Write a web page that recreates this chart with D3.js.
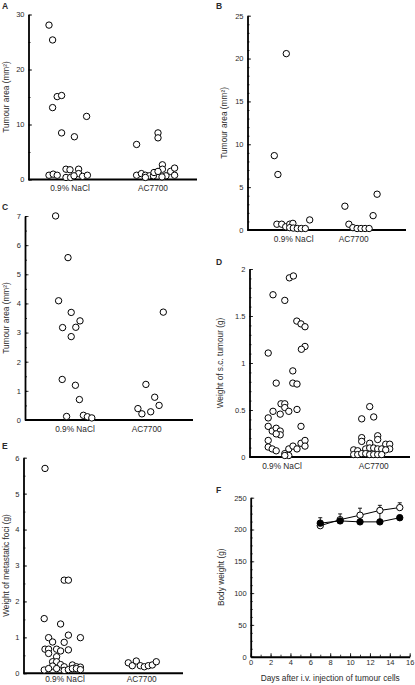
<!DOCTYPE html>
<html>
<head>
<meta charset="utf-8">
<script src="https://cdn.jsdelivr.net/npm/d3@7"></script>
<style>
  body { margin: 0; background: #fff; }
  text { font-family: "Liberation Sans", Arial, sans-serif; fill: #2a2a2a; }
</style>
</head>
<body>
<svg id="fig" width="415" height="685"></svg>
<script>
// groups on the x axis of panels A-E
var groups = ["0.9% NaCl", "AC7700"];

// each point: [jitter (-1..1 inside group), value]
var aNaCl = [[-1.05, 27.8], [-0.87, 25.1], [-0.64, 14.8], [-0.42, 15.0], [-0.87, 12.8], [-0.42, 8.2], [0.22, 7.5], [0.83, 11.2],
  [-1.05, 0.5], [-0.84, 0.7], [-0.64, 0.5], [-0.2, 1.6], [0, 1.5], [-0.2, 0.1], [0.03, 0.1], [0.43, 1.6], [0.43, 0.8], [0.2, 0.4], [0.63, 0.3], [0.87, 0.5]];
var aAC = [[-0.82, 6.1], [0.25, 8.2], [0.25, 7.3], [0.47, 2.4], [0.47, 1.6],
  [-0.82, 0.5], [-0.58, 0.8], [-0.38, 0.5], [-0.18, 0.4], [0.02, 0.4], [0.05, 1.0], [0.25, 1.2], [0.65, 0.4], [0.88, 1.2], [1.08, 1.8], [1.08, 0.5], [-0.38, 0.1], [0.45, 0.2]];

var bNaCl = [[-0.97, 8.5], [-0.79, 6.3], [-0.37, 20.4], [0.8, 1.0], [-0.84, 0.5], [-0.6, 0.5], [-0.4, 0.2], [-0.2, 0.5], [-0.04, 0.6],
  [-0.2, 0.1], [-0.02, 0.05], [0.18, 0], [0.38, 0], [0.58, 0]];
var bAC = [[-0.44, 2.6], [-0.24, 0.5], [-0.04, 0.1], [0.17, 0], [0.37, 0], [0.57, 0], [0.77, 0], [0.97, 1.5], [1.17, 4.0]];

var cNaCl = [[-0.97, 6.95], [-0.35, 5.52], [-0.82, 4.04], [-0.19, 3.64], [0.25, 3.35], [-0.62, 3.12], [0.04, 3.13], [-0.19, 2.81],
  [-0.64, 1.34], [0.02, 1.14], [0.22, 0.65], [-0.42, 0.07], [0.42, 0.11], [0.62, 0.06], [0.84, 0.02]];
var cAC = [[-0.44, 0.34], [-0.24, 0.16], [-0.04, 1.17], [0.2, 0.23], [0.4, 0.73], [0.62, 0.45], [0.83, 3.65]];

var dNaCl = [[0.37, 1.89], [0.57, 1.91], [-0.45, 1.71], [0.14, 1.65], [0.74, 1.43], [0.95, 1.40], [1.15, 1.37], [1.15, 1.16], [0.97, 1.13],
  [-0.69, 1.09], [0.54, 0.90], [-0.29, 0.77], [0.54, 0.77], [0.75, 0.76],
  [-0.05, 0.55], [0.14, 0.55], [-0.45, 0.47], [-0.09, 0.44], [0.14, 0.51], [0.34, 0.47], [0.75, 0.49], [-0.69, 0.40], [-0.69, 0.31],
  [-0.49, 0.26], [-0.29, 0.29], [-0.09, 0.26], [-0.09, 0.22], [-0.29, 0.23], [0.95, 0.31], [-0.69, 0.16], [-0.69, 0.09], [-0.49, 0.07],
  [-0.29, 0.05], [0.14, 0.02], [0.34, 0.07], [0.55, 0.10], [0.75, 0.07], [0.95, 0.13], [1.15, 0.16], [1.15, 0.10], [0.34, 0], [0.14, 0]];
var dAC = [[-0.2, 0.52], [-0.6, 0.39], [0, 0.41], [-0.6, 0.19], [-0.6, 0.15], [0.2, 0.21], [0.2, 0.17], [-0.2, 0.13], [0.6, 0.12],
  [0.8, 0.12], [0.8, 0.07], [-1, 0.06], [-0.8, 0.05], [-0.4, 0.07], [-0.2, 0.08], [0, 0.08], [0.2, 0.07], [0.4, 0.07], [0.6, 0.06],
  [-1, 0.01], [-0.8, 0.01], [-0.6, 0.02], [-0.4, 0.02], [-0.2, 0.01], [0, 0.01], [0.2, 0.01], [0.4, 0.01]];

var eNaCl = [[-1, 5.66], [-0.04, 2.55], [0.17, 2.55], [-1.04, 1.48], [-0.22, 1.33], [0.17, 1.02], [-0.82, 0.95], [0.77, 0.95],
  [-0.62, 0.83], [-0.04, 0.82], [-1, 0.63], [-0.82, 0.63], [-0.82, 0.51], [-0.42, 0.63], [-0.22, 0.58], [0.17, 0.61], [-0.42, 0.42],
  [-0.62, 0.28], [-0.42, 0.28], [-0.62, 0.16], [-0.22, 0.2], [-0.04, 0.14], [0.37, 0.19], [0.57, 0.14], [0.77, 0.13],
  [-1.04, 0.05], [-0.82, 0.09], [-0.42, 0.09], [-0.04, 0.04], [0.17, 0.06], [0.37, 0.09], [0.57, 0.09], [0.77, 0.06]];
var eAC = [[-0.67, 0.25], [-0.47, 0.17], [-0.27, 0.3], [-0.07, 0.17], [0.13, 0.14], [0.33, 0.17], [0.53, 0.19], [0.73, 0.28]];

// panel F: body weight over time
var fDays = [7, 9, 11, 13, 15];
var fNaCl = [206, 215.5, 222.5, 230, 234.5];
var fNaClErr = [0, 9, 11, 8, 7.5];
var fAC = [210, 213.5, 212, 212, 218.5];
var fACErr = [8.5, 3, 10, 18, 4];
var fDayTicks = [0, 2, 4, 6, 8, 10, 12, 14, 16];
var fWeightTicks = [0, 50, 100, 150, 200, 250];

var svg = d3.select("#fig");

function yAxis(g, y, x0, major, minor, fmt) {
  var minorG = g.append("g").attr("transform", "translate(" + x0 + ",0)")
    .call(d3.axisLeft(y).tickValues(minor).tickSizeInner(-2).tickSizeOuter(0).tickFormat(""));
  minorG.select(".domain").remove();
  var ax = g.append("g").attr("transform", "translate(" + x0 + ",0)")
    .call(d3.axisLeft(y).tickValues(major).tickSizeInner(-3.5).tickSizeOuter(0).tickPadding(4).tickFormat(fmt || d3.format("")));
  ax.select(".domain").attr("stroke-width", 1.8);
  ax.selectAll("text").attr("font-size", "7.5px").attr("font-family", null);
  g.selectAll(".tick line").attr("stroke-width", 0.8);
}

function letter(x, y, t) {
  svg.append("text").attr("x", x).attr("y", y).attr("font-size", "8.5px")
    .attr("font-weight", "bold").attr("fill", "#111").text(t);
}

function yTitle(x, y, t) {
  svg.append("text").attr("transform", "translate(" + x + "," + y + ") rotate(-90)")
    .attr("text-anchor", "middle").attr("font-size", "8.3px").attr("dy", "0.35em").text(t);
}

function scatterPanel(o) {
  var g = svg.append("g");
  var y = d3.scaleLinear().domain([0, o.yMax]).range([o.y0, o.yTop]);
  var gx = d3.scalePoint().domain(groups).range(o.centers);
  var jit = d3.scaleLinear().domain([-1, 1]).range([-20, 20]);

  yAxis(g, y, o.x0, d3.range(0, o.yMax + 1e-9, o.major), d3.range(0, o.yMax + 1e-9, o.minor), o.fmt);

  g.append("line").attr("x1", o.x0).attr("x2", o.xEnd)
    .attr("y1", o.y0).attr("y2", o.y0).attr("stroke", "#000").attr("stroke-width", 2);

  g.selectAll("text.grp").data(groups).enter().append("text")
    .attr("class", "grp")
    .attr("x", function(d) { return gx(d); })
    .attr("y", o.y0 + (o.labelDy || 11.5))
    .attr("text-anchor", "middle").attr("font-size", "8.3px")
    .text(function(d) { return d; });

  [o.data[0], o.data[1]].forEach(function(pts, gi) {
    g.selectAll(null).data(pts).enter().append("circle")
      .attr("cx", function(d) { return gx(groups[gi]) + jit(d[0]); })
      .attr("cy", function(d) { return y(d[1]) - 1.5; })
      .attr("r", 3.2)
      .attr("fill", "#fff").attr("stroke", "#000").attr("stroke-width", 1);
  });

  letter(o.letterX, o.letterY, o.letter);
  yTitle(o.titleX, (o.y0 + o.yTop) / 2, o.title);
}

scatterPanel({ letter: "A", letterX: 2, letterY: 9, data: [aNaCl, aAC], yMax: 30, major: 10, minor: 5,
  x0: 28.5, xEnd: 197, y0: 179.5, yTop: 14.5, centers: [70, 153], titleX: 6, title: "Tumour area (mm²)" });
scatterPanel({ letter: "B", letterX: 216, letterY: 9, data: [bNaCl, bAC], yMax: 25, major: 5, minor: 1,
  x0: 247.5, xEnd: 406, y0: 230, yTop: 15.7, centers: [293.7, 353.7], titleX: 224, title: "Tumour area (mm²)" });
scatterPanel({ letter: "C", letterX: 2, letterY: 210, data: [cNaCl, cAC], yMax: 7, major: 1, minor: 0.5,
  x0: 25, xEnd: 193, y0: 420, yTop: 216, centers: [75, 146.7], titleX: 6, title: "Tumour area (mm²)" });
scatterPanel({ letter: "D", letterX: 216, letterY: 265, data: [dNaCl, dAC], yMax: 2, major: 0.5, minor: 0.1,
  x0: 249.5, xEnd: 410, y0: 457, yTop: 269, centers: [282, 373.7], titleX: 220, title: "Weight of s.c. tumour (g)" });
scatterPanel({ letter: "E", letterX: 2, letterY: 449, data: [eNaCl, eAC], yMax: 6, major: 1, minor: 0.5,
  x0: 23.5, xEnd: 183, y0: 673.3, yTop: 457.7, centers: [65, 141.7], labelDy: 8.7, titleX: 6, title: "Weight of metastatic foci (g)" });

// panel F
(function() {
  var g = svg.append("g");
  var x = d3.scaleLinear().domain([0, 16]).range([250.7, 409.7]);
  var y = d3.scaleLinear().domain([0, 250]).range([656.7, 497.7]);

  yAxis(g, y, x(0), fWeightTicks, d3.range(0, 250.1, 12.5));

  var minorX = g.append("g").attr("transform", "translate(0," + y(0) + ")")
    .call(d3.axisBottom(x).tickValues(d3.range(0, 16.1, 1)).tickSizeInner(-2).tickSizeOuter(0).tickFormat(""));
  minorX.select(".domain").remove();
  var ax = g.append("g").attr("transform", "translate(0," + y(0) + ")")
    .call(d3.axisBottom(x).tickValues(fDayTicks).tickSizeInner(-3.5).tickSizeOuter(0).tickPadding(3));
  ax.select(".domain").attr("stroke-width", 2);
  ax.selectAll("text").attr("font-size", "7.5px").attr("font-family", null);
  g.selectAll(".tick line").attr("stroke-width", 0.8);

  var series = [
    { v: fNaCl, e: fNaClErr, fill: "#fff" },
    { v: fAC, e: fACErr, fill: "#000" }
  ];
  var line = d3.line().x(function(d) { return x(d[0]); }).y(function(d) { return y(d[1]); });

  series.forEach(function(s) {
    var pts = fDays.map(function(d, i) { return [d, s.v[i], s.e[i]]; });
    var eb = pts.filter(function(p) { return p[2] > 0; });
    g.selectAll(null).data(eb).enter().append("line")
      .attr("x1", function(p) { return x(p[0]); }).attr("x2", function(p) { return x(p[0]); })
      .attr("y1", function(p) { return y(p[1]); }).attr("y2", function(p) { return y(p[1] + p[2]); })
      .attr("stroke", "#000").attr("stroke-width", 0.9);
    g.selectAll(null).data(eb).enter().append("line")
      .attr("x1", function(p) { return x(p[0]) - 2; }).attr("x2", function(p) { return x(p[0]) + 2; })
      .attr("y1", function(p) { return y(p[1] + p[2]); }).attr("y2", function(p) { return y(p[1] + p[2]); })
      .attr("stroke", "#000").attr("stroke-width", 0.9);
    g.append("path").datum(pts).attr("d", line)
      .attr("fill", "none").attr("stroke", "#000").attr("stroke-width", 1);
  });
  series.forEach(function(s) {
    var pts = fDays.map(function(d, i) { return [d, s.v[i]]; });
    g.selectAll(null).data(pts).enter().append("circle")
      .attr("cx", function(p) { return x(p[0]); }).attr("cy", function(p) { return y(p[1]); })
      .attr("r", 3.2).attr("fill", s.fill).attr("stroke", "#000").attr("stroke-width", 1);
  });

  g.append("text").attr("x", (x(0) + x(16)) / 2).attr("y", 680.5)
    .attr("text-anchor", "middle").attr("font-size", "8.3px")
    .text("Days after i.v. injection of tumour cells");
  letter(216, 493, "F");
  yTitle(221, (y(0) + y(250)) / 2, "Body weight (g)");
})();
</script>
</body>
</html>
